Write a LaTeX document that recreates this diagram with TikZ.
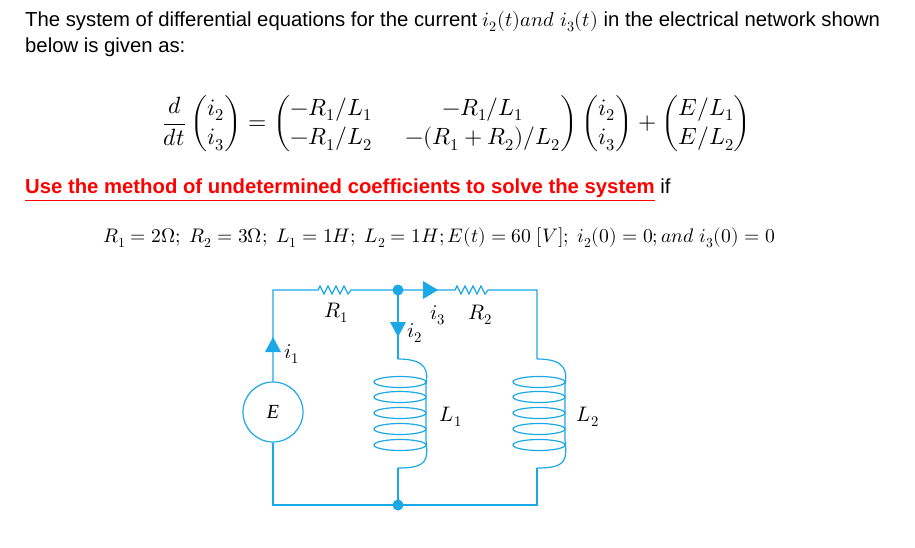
\documentclass[tikz,border=0pt]{standalone}
\usepackage{amsmath}
\usepackage{fontspec}
\setmainfont{Liberation Sans}
\usepackage{unicode-math}
\setmathfont{Latin Modern Math}
\newfontfamily\serifr{Liberation Serif}
\begin{document}
\begin{tikzpicture}[x=1pt,y=-1pt,
  wire/.style={draw=cb,line width=1.2pt},
  dotn/.style={circle,fill=cb,inner sep=0pt,minimum size=11pt},
  lab/.style={font=\fontsize{21}{21}\selectfont},
  txt/.style={anchor=west,inner sep=0pt,font=\fontsize{20.3}{24}\selectfont}]
\definecolor{cb}{HTML}{1BA8E6}
\useasboundingbox (0,0) rectangle (915,548);
\node[txt] (t1) at (25,22) {The system of differential equations for the current $i_2(t) and\ i_3(t)$ in the electrical network shown};
\node[txt] (t2) at (25,47) {below is given as:};
\node[inner sep=0pt,font=\fontsize{23.5}{23.5}\selectfont] (eq) at (457,124) {\renewcommand{\arraystretch}{1.25}$\displaystyle \frac{d}{dt}\begin{pmatrix} i_2\\ i_3\end{pmatrix}=\begin{pmatrix}-R_1/L_1 & \quad -R_1/L_1\\ -R_1/L_2 & \quad -(R_1+R_2)/L_2\end{pmatrix}\begin{pmatrix} i_2\\ i_3\end{pmatrix}+\begin{pmatrix}E/L_1\\ E/L_2\end{pmatrix}$};
\node[txt] (t3) at (25,190) {\textcolor{red}{\bfseries\underline{Use the method of undetermined coefficients to solve the system}} if};
\node[txt,font=\fontsize{19.6}{22}\selectfont] (t4) at (103,238) {$R_1=2\Omega;\ R_2=3\Omega;\ L_1=1H;\ L_2=1H; E(t)=60\ [V];\ i_2(0)=0; and\ i_3(0)=0$};
% circuit
\coordinate (tl) at (273,290); \coordinate (tm) at (398,290); \coordinate (tr) at (537,290);
\coordinate (bl) at (273,505); \coordinate (bm) at (398,505); \coordinate (br) at (537,505);
\node[circle,draw=cb,line width=1.2pt,minimum size=60pt,inner sep=0pt,font=\serifr\itshape\fontsize{20}{20}\selectfont] (E) at (273,412) {E};
\draw[wire] (E.north) -- (tl) -- (318,290)
  -- ++(2,-4) -- ++(4,8) -- ++(4,-8) -- ++(4,8) -- ++(4,-8) -- ++(4,8) -- ++(4,-8) -- ++(4,8) -- ++(3,-4) -- (tm);
\draw[wire] (tm) -- (455,290) -- ++(2,-4) -- ++(4,8) -- ++(4,-8) -- ++(4,8) -- ++(4,-8) -- ++(4,8) -- ++(4,-8) -- ++(4,8) -- ++(3,-4) -- (tr) -- (537,359);
\draw[wire] (E.south) -- (bl) -- (br) -- (537,468);
\draw[wire] (tm) -- (398,359); \draw[wire] (bm) -- (398,468);
\foreach \cx in {398,537}{
  \foreach \cy in {382,397,413,429,445}{\draw[wire] (\cx+2,\cy) ellipse (26pt and 5.5pt);}
  \draw[wire] (\cx,359) .. controls (\cx+30,359) and (\cx+30,372) .. (\cx+28,385) -- (\cx+28,440) .. controls (\cx+30,460) and (\cx+30,468) .. (\cx,468);
}
\node[dotn] (n1) at (tm) {}; \node[dotn] (n2) at (bm) {};
\fill[cb] (423,281) -- (438,290) -- (423,299) -- cycle;
\fill[cb] (390,322) -- (406,322) -- (398,337) -- cycle;
\fill[cb] (265,352) -- (281,352) -- (273,337) -- cycle;
\node[lab] (r1) at (336,313) {$R_1$};
\node[lab] (r2) at (480,315) {$R_2$};
\node[lab] (i3) at (438,315) {$i_3$};
\node[lab] (i2) at (415,333) {$i_2$};
\node[lab] (i1) at (292,354) {$i_1$};
\node[lab] (l1) at (451,417) {$L_1$};
\node[lab] (l2) at (588,417) {$L_2$};
\end{tikzpicture}
\end{document}
